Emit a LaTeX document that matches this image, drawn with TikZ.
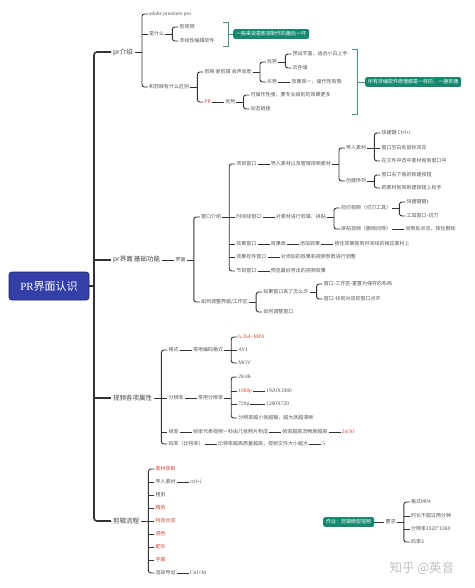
\documentclass[tikz,border=0pt]{standalone}
\usepackage{fontspec}
\setmainfont{Liberation Serif}
\newfontfamily\cjk{Noto Sans CJK SC}
\usepackage{xcolor}
\usepackage{tikz}
\usetikzlibrary{positioning}
\definecolor{rootblue}{RGB}{52,64,168}
\definecolor{notegreen}{RGB}{22,136,112}
\definecolor{brkgreen}{RGB}{70,150,135}
\definecolor{redtxt}{RGB}{205,72,60}
\definecolor{txtgray}{RGB}{85,85,85}
\definecolor{linegray}{RGB}{50,50,50}
% bracket from a parent to its first and last child
\newcommand{\brak}[3]{%
  \draw[link] (#1.east) -- ++(7,0) coordinate (b);
  \draw[link,rounded corners=2.5pt] (#2.west) -| (b) |- (#3.west);
}

\begin{document}
\begin{tikzpicture}[x=1pt,y=-1pt,
    txt/.style={anchor=west,inner sep=1pt,text=txtgray,font=\cjk\fontsize{5}{6}\selectfont},
    hot/.style={txt,text=redtxt},
    lat/.style={txt,font=\fontsize{5.4}{6}\selectfont},
    hotlat/.style={lat,text=redtxt},
    kid/.style={xshift=13pt},
    mainlbl/.style={anchor=west,inner sep=2pt,text=black!75,font=\cjk\fontsize{6.5}{8}\selectfont},
    notebox/.style={anchor=west,fill=notegreen,text=white,rounded corners=2pt,inner xsep=3pt,inner ysep=2.5pt,font=\cjk\fontsize{5}{6}\selectfont},
    rootbox/.style={fill=rootblue,draw=rootblue!60!black,line width=0.8pt,rounded corners=3pt,text=white,minimum width=80pt,minimum height=28pt,font=\cjk\fontsize{11}{13}\selectfont},
    link/.style={draw=linegray,line width=0.9pt},
    spine/.style={draw=linegray,line width=1.6pt},
    notelink/.style={draw=brkgreen,line width=0.85pt}]
\useasboundingbox (0,0) rectangle (474,588);

\node[rootbox] (root) at (49,286) {{\rmfamily PR}界面认识};
\node[mainlbl] (intro) at (111,52) {pr介绍};
\node[mainlbl] (ui) at (111,260) {pr界面 基础功能};
\node[mainlbl] (attr) at (111,398) {视频各项属性};
\node[mainlbl] (flow) at (111,521) {剪辑流程};
\coordinate (hub) at (94,286);
\draw[spine] (root.east) -- (hub);
\draw[spine,rounded corners=3pt] (intro.west) -| (hub) |- (flow.west);
\foreach \m in {ui,attr}
  \draw[spine] (\m.west) -- (hub |- \m.west);

% pr介绍
\node[lat,kid] (apro) at (intro.east |- 0,14) {adobe premiere pro};
\node[txt,kid] (what) at (intro.east |- 0,34) {是什么};
\node[txt,kid] (diff) at (intro.east |- 0,87) {和剪映有什么区别};
\brak{intro}{apro}{diff}
\draw[link] (what.west) -- (b |- what.west);
\node[txt,kid] (cut) at (what.east |- 0,27) {剪视频};
\node[txt,kid] (nle) at (what.east |- 0,41) {非线性编辑软件};
\brak{what}{cut}{nle}
\node[notebox] (note1) at (233,34) {一般来说是影视制作的最后一环};
\draw[notelink] (note1.west) -- ++(-5,0) coordinate (n);
\draw[notelink] ([shift={(-5,-12)}]n) -- ++(5,0) -- ++(0,24) -- ++(-5,0);

\node[txt,kid] (jy) at (diff.east |- 0,72) {剪映 爱剪辑 会声会影};
\node[hot,kid] (prx) at (diff.east |- 0,102) {PR};
\brak{diff}{jy}{prx}
\node[txt,kid] (jyadv) at (jy.east |- 0,62) {优势};
\node[txt,kid] (jydis) at (jy.east |- 0,82) {劣势};
\brak{jy}{jyadv}{jydis}
\node[txt,kid] (jya1) at (jyadv.east |- 0,54) {预设丰富，适合小白上手};
\node[txt,kid] (jya2) at (jyadv.east |- 0,68) {云存储};
\brak{jyadv}{jya1}{jya2}
\node[txt,right=12pt of jydis] (jyd1) {效果单一，操作性有限};
\draw[link] (jydis) -- (jyd1);
\node[txt,right=12pt of prx] (pradv) {优势};
\draw[link] (prx) -- (pradv);
\node[txt,kid] (pra1) at (pradv.east |- 0,95) {可操作性强，要专业级别的效果更多};
\node[txt,kid] (pra2) at (pradv.east |- 0,109) {动态链接};
\brak{pradv}{pra1}{pra2}
\node[notebox] (note2) at (365,82) {所有非编软件原理都是一样的，一通百通};
\draw[notelink] (note2.west) -- ++(-8,0) coordinate (n);
\draw[notelink] ([shift={(-5,-33)}]n) -- ++(5,0) -- ++(0,65) -- ++(-5,0);

% pr界面 基础功能
\node[txt,right=12pt of ui] (face) {界面};
\draw[link] (ui) -- (face);
\node[txt,kid] (win) at (face.east |- 0,217) {窗口介绍};
\node[txt,kid] (layout) at (face.east |- 0,302) {如何调整界面/工作区};
\brak{face}{win}{layout}
\node[txt,kid] (proj) at (win.east |- 0,164) {项目窗口};
\node[txt,kid] (tline) at (win.east |- 0,217) {时间线窗口};
\node[txt,kid] (fx) at (win.east |- 0,244) {效果窗口};
\node[txt,kid] (fxctl) at (win.east |- 0,257) {效果控件窗口};
\node[txt,kid] (prog) at (win.east |- 0,271) {节目窗口};
\brak{win}{proj}{prog}
\foreach \w in {tline,fx,fxctl}
  \draw[link] (\w.west) -- (b |- \w.west);

\node[txt,right=12pt of proj] (projd) {导入素材以及管理视频素材};
\draw[link] (proj) -- (projd);
\node[txt,kid] (imp) at (projd.east |- 0,148) {导入素材};
\node[txt,kid] (seq) at (projd.east |- 0,181) {创建序列};
\brak{projd}{imp}{seq}
\node[txt,kid] (imp1) at (imp.east |- 0,133) {快捷键 Ctrl+i};
\node[txt,kid] (imp2) at (imp.east |- 0,148) {窗口空白处鼠标双击};
\node[txt,kid] (imp3) at (imp.east |- 0,161) {在文件中选中素材拖到窗口中};
\brak{imp}{imp1}{imp3}
\draw[link] (imp2.west) -- (b |- imp2.west);
\node[txt,kid] (seq1) at (seq.east |- 0,175) {窗口右下角的新建按钮};
\node[txt,kid] (seq2) at (seq.east |- 0,188) {把素材拖到新建按钮上松手};
\brak{seq}{seq1}{seq2}

\node[txt,right=12pt of tline] (tlined) {对素材进行剪辑、拼贴};
\draw[link] (tline) -- (tlined);
\node[txt,kid] (razor) at (tlined.east |- 0,208) {剪切视频（切刀工具）};
\node[txt,kid] (ripple) at (tlined.east |- 0,229) {拼贴视频（删除间隙）};
\brak{tlined}{razor}{ripple}
\node[txt,kid] (rz1) at (razor.east |- 0,202) {快捷键键c};
\node[txt,kid] (rz2) at (razor.east |- 0,216) {工具窗口-切刀};
\brak{razor}{rz1}{rz2}
\node[txt,right=12pt of ripple] (rp1) {间隙处点击，按住删除};
\draw[link] (ripple) -- (rp1);

\node[txt,right=12pt of fx] (fxlib) {效果库};
\node[txt,right=12pt of fxlib] (fxadd) {添加效果};
\node[txt,right=12pt of fxadd] (fxdrag) {按住效果拖到时间线的相应素材上};
\draw[link] (fx) -- (fxlib);
\draw[link] (fxlib) -- (fxadd);
\draw[link] (fxadd) -- (fxdrag);
\node[txt,right=12pt of fxctl] (fxctld) {对添加的效果和视频参数进行调整};
\draw[link] (fxctl) -- (fxctld);
\node[txt,right=12pt of prog] (progd) {预览最后导出的视频效果};
\draw[link] (prog) -- (progd);

\node[txt,kid] (lost) at (layout.east |- 0,292) {如果窗口丢了怎么办};
\node[txt,kid] (adjw) at (layout.east |- 0,312) {如何调整窗口};
\brak{layout}{lost}{adjw}
\node[txt,kid] (lost1) at (lost.east |- 0,284) {窗口-工作区-重置为保存的布局};
\node[txt,kid] (lost2) at (lost.east |- 0,299) {窗口-找到对应的窗口点开};
\brak{lost}{lost1}{lost2}

% 视频各项属性
\node[txt,kid] (fmt) at (attr.east |- 0,350) {格式};
\node[txt,kid] (res) at (attr.east |- 0,398) {分辨率};
\node[txt,kid] (fps) at (attr.east |- 0,432) {帧率};
\node[txt,kid] (br) at (attr.east |- 0,444) {码率（比特率）};
\brak{attr}{fmt}{br}
\foreach \a in {res,fps}
  \draw[link] (\a.west) -- (b |- \a.west);

\node[txt,right=12pt of fmt] (fmtd) {常用编码格式};
\draw[link] (fmt) -- (fmtd);
\node[hotlat,kid] (mp4) at (fmtd.east |- 0,337) {h.264+MP4};
\node[lat,kid] (avi) at (fmtd.east |- 0,350) {AVI};
\node[lat,kid] (mov) at (fmtd.east |- 0,363) {MOV};
\brak{fmtd}{mp4}{mov}
\draw[link] (avi.west) -- (b |- avi.west);

\node[txt,right=12pt of res] (resd) {常用分辨率};
\draw[link] (res) -- (resd);
\node[lat,kid] (k4) at (resd.east |- 0,377) {2K4K};
\node[hotlat,kid] (p1080) at (resd.east |- 0,391) {1080p};
\node[lat,kid] (p720) at (resd.east |- 0,404) {720p};
\node[txt,kid] (resn) at (resd.east |- 0,418) {分辨率越小就越糊，越大就越清晰};
\brak{resd}{k4}{resn}
\foreach \r in {p1080,p720}
  \draw[link] (\r.west) -- (b |- \r.west);
\node[lat,right=12pt of p1080] (r1080) {1920X1080};
\node[lat] (r720) at (r1080.west |- p720) {1280X720};
\draw[link] (p1080) -- (r1080);
\draw[link] (p720) -- (r720);

\node[txt,right=12pt of fps] (fpsd) {帧率代表视频一秒由几张照片构成};
\node[txt,right=12pt of fpsd] (fpsh) {帧率越高流畅度越高};
\node[hotlat,right=12pt of fpsh] (fpsv) {24/30};
\draw[link] (fps) -- (fpsd);
\draw[link] (fpsd) -- (fpsh);
\draw[link] (fpsh) -- (fpsv);
\node[txt,right=12pt of br] (brd) {比特率越高质量越高，视频文件大小越大};
\node[hotlat,right=12pt of brd] (brv) {5};
\draw[link] (br) -- (brd);
\draw[link] (brd) -- (brv);

% 剪辑流程
\foreach \n/\y/\s/\t in {1/469/hot/素材获取,2/482/txt/导入素材,3/495/txt/粗剪,
    4/508/hot/精剪,5/521/hot/特效合成,6/534/hot/调色,7/547/hot/配乐,
    8/560/hot/字幕,9/573/txt/渲染导出}
  \node[\s,kid] (st\n) at (flow.east |- 0,\y) {\t};
\brak{flow}{st1}{st9}
\foreach \n in {2,...,8}
  \draw[link] (st\n.west) -- (b |- st\n.west);
\node[lat,right=12pt of st2] (st2k) {ctrl+i};
\draw[link] (st2) -- (st2k);
\node[lat,right=12pt of st9] (st9k) {Ctrl+M};
\draw[link] (st9) -- (st9k);

% 作业
\node[notebox] (hw) at (323,522) {作业：剪辑微型视频};
\node[txt,right=10pt of hw] (req) {要求};
\draw[link] (hw) -- (req);
\node[txt,kid] (req1) at (req.east |- 0,502) {格式MP4};
\node[txt,kid] (req2) at (req.east |- 0,516) {时长不超过两分钟};
\node[txt,kid] (req3) at (req.east |- 0,529) {分辨率1920*1080};
\node[txt,kid] (req4) at (req.east |- 0,542) {码率3};
\brak{req}{req1}{req4}
\foreach \q in {req2,req3}
  \draw[link] (\q.west) -- (b |- \q.west);

\node[anchor=west,text=black!25,font=\cjk\fontsize{12.5}{14}\selectfont] (wm) at (386,568) {知乎 @英音};
\end{tikzpicture}
\end{document}
